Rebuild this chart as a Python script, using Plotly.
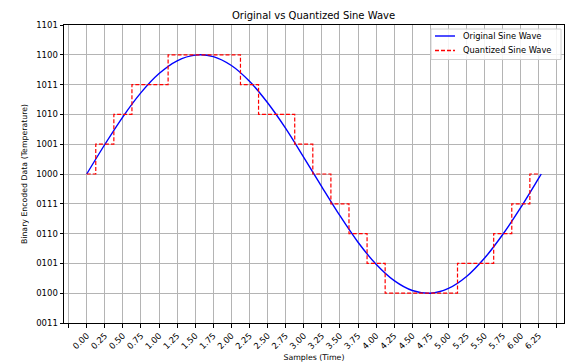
import plotly.graph_objects as go

# Sample times (rad) at which both series were read
sample_x = [0.00, 0.25, 0.50, 0.75, 1.00, 1.25, 1.50, 1.75, 2.00, 2.25, 2.50, 2.75, 3.00,
            3.25, 3.50, 3.75, 4.00, 4.25, 4.50, 4.75, 5.00, 5.25, 5.50, 5.75, 6.00, 6.25]

# Original sine wave (in level units) -- with final end point at 2*pi
orig_x = sample_x + [6.283]
orig_y = [8.00, 8.99, 9.92, 10.73, 11.37, 11.80, 11.99, 11.94, 11.64, 11.11, 10.39, 9.53, 8.56,
          7.57, 6.60, 5.71, 4.97, 4.42, 4.09, 4.00, 4.16, 4.56, 5.18, 5.97, 6.88, 7.87, 8.00]

# Quantized levels
quant_y = [8, 9, 10, 11, 11, 12, 12, 12, 12, 11, 10, 10, 9,
           8, 7, 6, 5, 4, 4, 4, 4, 5, 5, 6, 7, 8]

# Tick labels
x_tick_vals = [-0.25, 0.00, 0.25, 0.50, 0.75, 1.00, 1.25, 1.50, 1.75, 2.00, 2.25, 2.50, 2.75,
               3.00, 3.25, 3.50, 3.75, 4.00, 4.25, 4.50, 4.75, 5.00, 5.25, 5.50, 5.75,
               6.00, 6.25, 6.50]
x_tick_text = [""] + ["%.2f" % v for v in x_tick_vals[1:-1]] + [""]
y_tick_vals = [3, 4, 5, 6, 7, 8, 9, 10, 11, 12, 13]
y_tick_text = ["0011", "0100", "0101", "0110", "0111", "1000", "1001", "1010", "1011",
               "1100", "1101"]
series_names = ["Original Sine Wave", "Quantized Sine Wave"]
series_colors = ["#0000ff", "#ff0000"]
series_dash = ["solid", "4px,2px"]

FONT = "DejaVu Sans"
W, H = 585, 362
ML, MR, MT, MB = 64, 21, 25, 39

fig = go.Figure()
fig.add_trace(go.Scatter(
    x=orig_x, y=orig_y, mode="lines", name=series_names[0], showlegend=False,
    line=dict(color=series_colors[0], width=1.4, shape="spline", smoothing=0.8),
))
fig.add_trace(go.Scatter(
    x=sample_x, y=quant_y, mode="lines", name=series_names[1], showlegend=False,
    line=dict(color=series_colors[1], width=1.2, dash=series_dash[1], shape="hvh"),
))

axis_common = dict(
    showline=True, linecolor="black", linewidth=1, mirror=True,
    showgrid=True, gridcolor="#b4b4b4", gridwidth=0.8,
    ticks="outside", ticklen=3.5, tickcolor="black", tickwidth=0.8,
    zeroline=False, automargin=False,
    tickfont=dict(family=FONT, size=8.5, color="black"),
)

# Custom legend (matplotlib-style compact box), positioned in pixel terms of the plot area
pw, ph = W - ML - MR, H - MT - MB
def px2x(px):
    return (px - ML) / pw
def py2y(py):
    return 1 - (py - MT) / ph

shapes = [dict(type="rect", xref="paper", yref="paper",
               x0=px2x(431), x1=px2x(561), y0=py2y(59.5), y1=py2y(29),
               line=dict(color="#d0d0d0", width=1), fillcolor="rgba(255,255,255,0.85)",
               layer="above")]
annotations = []
row_y = [36, 50.5]
for i in range(2):
    shapes.append(dict(type="line", xref="paper", yref="paper",
                       x0=px2x(435), x1=px2x(455), y0=py2y(row_y[i]), y1=py2y(row_y[i]),
                       line=dict(color=series_colors[i], width=1.4, dash=series_dash[i]),
                       layer="above"))
    annotations.append(dict(xref="paper", yref="paper", x=px2x(461), y=py2y(row_y[i]),
                            text=series_names[i], showarrow=False, xanchor="left",
                            yanchor="middle", font=dict(family=FONT, size=8.3, color="black")))

fig.update_layout(
    width=W, height=H,
    margin=dict(l=ML, r=MR, t=MT, b=MB, autoexpand=False),
    paper_bgcolor="white", plot_bgcolor="white",
    font=dict(family=FONT, color="black"),
    title=dict(text="Original vs Quantized Sine Wave", x=0.536, xanchor="center",
               y=1 - 15.7 / H, yanchor="middle", font=dict(family=FONT, size=10, color="black")),
    xaxis=dict(
        range=[-0.314, 6.597], tickmode="array", tickvals=x_tick_vals, ticktext=x_tick_text,
        tickangle=-45,
        title=dict(text="Samples (Time)", font=dict(family=FONT, size=7.8), standoff=6),
        **axis_common,
    ),
    yaxis=dict(
        range=[3, 13], tickmode="array", tickvals=y_tick_vals, ticktext=y_tick_text,
        title=dict(text="Binary Encoded Data (Temperature)", font=dict(family=FONT, size=7.8),
                   standoff=7),
        **axis_common,
    ),
    shapes=shapes,
    annotations=annotations,
    showlegend=False,
)

# Remove the browser's default body margin so the figure sits at the page's top-left corner
fig.write_html("out.html", config={"displayModeBar": False},
               post_script="document.body.style.margin='0';document.body.style.overflow='hidden';")
